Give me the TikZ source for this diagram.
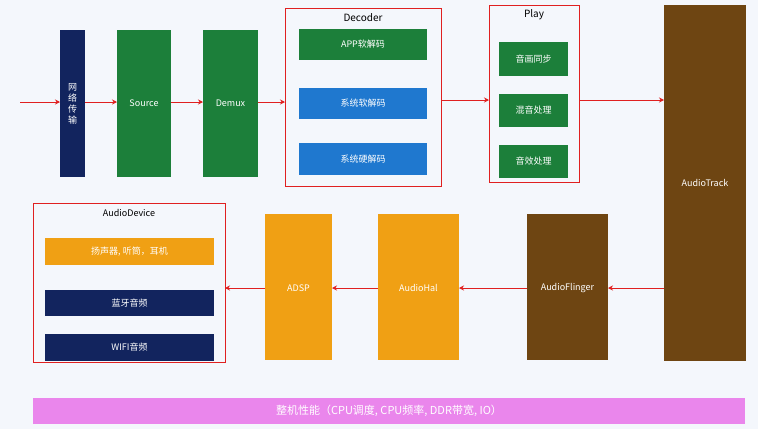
\documentclass[tikz,border=0pt]{standalone}
\usepackage{fontspec}
\setmainfont{Noto Sans CJK SC}
\usetikzlibrary{arrows.meta}
\definecolor{cgreen}{HTML}{1C7F3A}
\definecolor{cnavy}{HTML}{12245E}
\definecolor{cblue}{HTML}{1F78CF}
\definecolor{cbrown}{HTML}{6E4512}
\definecolor{corange}{HTML}{F0A014}
\definecolor{cpink}{HTML}{EA86EC}
\definecolor{cbg}{HTML}{F4F7FC}
\definecolor{cred}{HTML}{E02020}
\begin{document}
\begin{tikzpicture}[x=1pt,y=-1pt,
  blk/.style={draw=none,text=white,font=\fontsize{9}{11}\selectfont,inner sep=0pt},
  grp/.style={draw=cred,line width=0.9pt},
  arr/.style={-{Stealth[length=5pt,width=5pt]},cred,line width=1pt},
  ttl/.style={font=\fontsize{10}{12}\selectfont}]
\fill[cbg] (0,0) rectangle (758,429);
\useasboundingbox (0,0) rectangle (758,429);
\newcommand{\bx}[6]{\fill[#6] (#2,#3) rectangle (#4,#5); \node[blk,align=center] (#1) at ({(#2+#4)/2},{(#3+#5)/2}) {};}
% top row
\fill[cnavy] (60,30) rectangle (85,177); \node[blk,align=center] (net) at (72.5,103.5) {网\\络\\传\\输};
\coordinate (netL) at (60,102); \coordinate (netR) at (85,102);
\coordinate (in) at (20,102);
\fill[cgreen] (117,30) rectangle (171,177); \node[blk] (src) at (144,103) {Source};
\coordinate (srcL) at (117,102); \coordinate (srcR) at (171,102);
\fill[cgreen] (203,30) rectangle (258,177); \node[blk] (dmx) at (230.5,103) {Demux};
\coordinate (dmxL) at (203,102); \coordinate (dmxR) at (258,102);
\draw[grp] (285,8) rectangle (441,186);
\coordinate (decL) at (285,102); \coordinate (decR) at (441,100);
\node[ttl] (dect) at (363,18) {Decoder};
\fill[cgreen] (299,29) rectangle (427,60); \node[blk] (d1) at (363,44.5) {APP软解码};
\fill[cblue] (299,88) rectangle (427,119); \node[blk] (d2) at (363,103.5) {系统软解码};
\fill[cblue] (299,143) rectangle (427,175); \node[blk] (d3) at (363,159) {系统硬解码};
\draw[grp] (489,5) rectangle (579,182);
\coordinate (plL) at (489,100); \coordinate (plR) at (579,100);
\node[ttl] (plt) at (534,15) {Play};
\fill[cgreen] (499,42) rectangle (568,76); \node[blk] (p1) at (533.5,59) {音画同步};
\fill[cgreen] (499,94) rectangle (568,127); \node[blk] (p2) at (533.5,110.5) {混音处理};
\fill[cgreen] (499,145) rectangle (568,178); \node[blk] (p3) at (533.5,161.5) {音效处理};
\fill[cbrown] (664,5) rectangle (746,361); \node[blk] (at) at (705,183) {AudioTrack};
\coordinate (atT) at (664,100); \coordinate (atB) at (664,288);
% bottom row
\fill[cbrown] (527,214) rectangle (608,360); \node[blk] (af) at (567.5,288) {AudioFlinger};
\coordinate (afR) at (608,288); \coordinate (afL) at (527,288);
\fill[corange] (378,214) rectangle (459,360); \node[blk] (ah) at (418.5,288) {AudioHal};
\coordinate (ahR) at (459,288); \coordinate (ahL) at (378,288);
\fill[corange] (265,214) rectangle (332,360); \node[blk] (ad) at (298.5,288) {ADSP};
\coordinate (adR) at (332,288); \coordinate (adL) at (265,288);
\draw[grp] (33,203) rectangle (225,362);
\coordinate (devR) at (225,288);
\node[ttl,font=\fontsize{9}{11}\selectfont] (devt) at (129,213) {AudioDevice};
\fill[corange] (45,238) rectangle (214,265); \node[blk] (v1) at (129.5,251.5) {扬声器, 听筒，耳机};
\fill[cnavy] (45,290) rectangle (214,316); \node[blk] (v2) at (129.5,303) {蓝牙音频};
\fill[cnavy] (45,334) rectangle (214,361); \node[blk] (v3) at (129.5,347.5) {WIFI音频};
% pink bar
\fill[cpink] (33,398) rectangle (745,424);
\node[blk,text=white,font=\fontsize{11}{13}\selectfont] (perf) at (389,411) {整机性能（CPU调度, CPU频率, DDR带宽, IO）};
% arrows
\draw[arr] (in) -- (netL);
\draw[arr] (netR) -- (srcL);
\draw[arr] (srcR) -- (dmxL);
\draw[arr] (dmxR) -- (decL);
\draw[arr] (decR) -- (plL);
\draw[arr] (plR) -- (atT);
\draw[arr] (atB) -- (afR);
\draw[arr] (afL) -- (ahR);
\draw[arr] (ahL) -- (adR);
\draw[arr] (adL) -- (devR);
\end{tikzpicture}
\end{document}
